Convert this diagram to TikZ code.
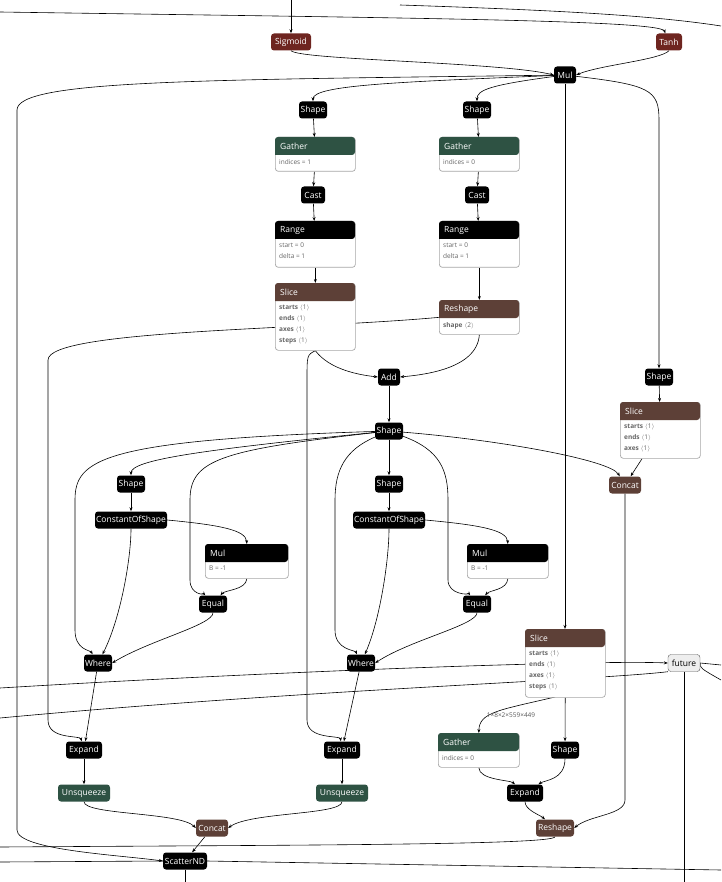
\documentclass[tikz,border=0pt]{standalone}
\usepackage{fontspec}
\setmainfont{Open Sans}
\usetikzlibrary{arrows.meta,backgrounds}
\definecolor{sig}{HTML}{6E2520}
\definecolor{brn}{HTML}{5D4037}
\definecolor{grn}{HTML}{2E5243}
\definecolor{fut}{HTML}{EEEEEE}
\newcommand\ang[1]{$\langle$#1$\rangle$}
\tikzset{
 op/.style={fill=black,text=white,rounded corners=3pt,inner sep=0pt,minimum height=17pt,font=\fontsize{8.5}{9}\selectfont,text width=#1,align=center},
 op/.default=28pt,
 cop/.style={op=#1,fill=brn},
 e/.style={-{Stealth[length=4pt,width=3pt]},line width=0.6pt},
 l/.style={line width=0.6pt},
 attr/.style={font=\fontsize{6.5}{11}\selectfont,text=gray!80!black,anchor=north west,align=left,inner sep=0pt}
}
\newcommand\abox[8]{%name,x,y,w,h,color,title,body
 \node[draw=gray!70,fill=white,rounded corners=3pt,minimum width=#4pt,minimum height=#5pt,anchor=north west,inner sep=0pt,line width=0.7pt] (#1) at (#2,#3) {};
 \fill[#6,rounded corners=3pt] (#2,#3+18) -- (#2,#3) -- (#2+#4,#3) -- (#2+#4,#3+18) [sharp corners]-- cycle;
 \node[anchor=west,text=white,font=\fontsize{8.5}{9}\selectfont,inner sep=0pt] at (#2+5,#3+9) {#7};
 \node[attr] at (#2+4,#3+22) {#8};}
\begin{document}
\begin{tikzpicture}[x=1pt,y=-1pt]
\useasboundingbox (0,0) rectangle (721,882);
% nodes
\node[op=40pt,fill=sig] (sig) at (291,42) {Sigmoid};
\node[op=26pt,fill=sig] (tanh) at (669,42) {Tanh};
\node[op=22pt] (mul) at (565,75) {Mul};
\node[op] (sh1) at (313,110) {Shape};
\node[op] (sh2) at (477,110) {Shape};
\abox{ga1}{275}{137}{80}{34}{grn}{Gather}{indices = 1}
\abox{ga2}{439}{137}{80}{34}{grn}{Gather}{indices = 0}
\node[op=24pt] (ca1) at (313,195) {Cast};
\node[op=24pt] (ca2) at (477,195) {Cast};
\abox{ra1}{275}{221}{80}{46}{black}{Range}{start = 0\\delta = 1}
\abox{ra2}{439}{221}{80}{46}{black}{Range}{start = 0\\delta = 1}
\abox{sl1}{275}{283}{80}{67}{brn}{Slice}{\textbf{starts} \ang{1}\\\textbf{ends} \ang{1}\\\textbf{axes} \ang{1}\\\textbf{steps} \ang{1}}
\abox{rs1}{439}{300}{80}{34}{brn}{Reshape}{\textbf{shape} \ang{2}}
\node[op=22pt] (add) at (389,377) {Add};
\node[op] (sh3) at (659,377) {Shape};
\abox{sl2}{620}{402}{80}{56}{brn}{Slice}{\textbf{starts} \ang{1}\\\textbf{ends} \ang{1}\\\textbf{axes} \ang{1}}
\node[op] (sh4) at (389,431) {Shape};
\node[cop=32pt] (cc1) at (625,485) {Concat};
\node[op] (sh5) at (131,484) {Shape};
\node[op] (sh6) at (389,484) {Shape};
\node[op=72pt] (co1) at (131,520) {ConstantOfShape};
\node[op=72pt] (co2) at (389,520) {ConstantOfShape};
\abox{mb1}{205}{544}{83}{34}{black}{Mul}{B = -1}
\abox{mb2}{467}{544}{81}{34}{black}{Mul}{B = -1}
\node[op] (eq1) at (213,604) {Equal};
\node[op] (eq2) at (477,604) {Equal};
\node[op] (wh1) at (98,663) {Where};
\node[op] (wh2) at (361,663) {Where};
\abox{sl3}{525}{629}{80}{68}{brn}{Slice}{\textbf{starts} \ang{1}\\\textbf{ends} \ang{1}\\\textbf{axes} \ang{1}\\\textbf{steps} \ang{1}}
\node[draw=gray!70!black,fill=fut,rounded corners=3pt,minimum height=17pt,inner sep=0pt,text width=32pt,align=center,font=\fontsize{8.5}{9}\selectfont] (fu) at (684,663) {future};
\abox{ga3}{438}{733}{81}{34}{grn}{Gather}{indices = 0}
\node[op] (sh7) at (565,750) {Shape};
\node[op=36pt] (ex1) at (84,750) {Expand};
\node[op=36pt] (ex2) at (342,750) {Expand};
\node[op=36pt] (ex3) at (525,793) {Expand};
\node[op=52pt,fill=grn] (un1) at (84,793) {Unsqueeze};
\node[op=52pt,fill=grn] (un2) at (342,793) {Unsqueeze};
\node[cop=32pt] (cc2) at (212,828) {Concat};
\node[cop=38pt] (rs2) at (555,828) {Reshape};
\node[op=44pt] (sct) at (185,861) {ScatterND};
\coordinate (t0) at (0,12); \coordinate (t1) at (291,0); \coordinate (t2) at (721,26);
\coordinate (lf1) at (0,688); \coordinate (lf2) at (0,718); \coordinate (lf3) at (0,862);
\coordinate (rt1) at (721,665); \coordinate (rt2) at (721,680); \coordinate (rt3) at (721,870);
\coordinate (b1) at (684,882); \coordinate (b2) at (185,882); \coordinate (lf4) at (0,847);
\coordinate (sl3o) at (555,697);
\begin{scope}[on background layer]
\draw[e] (t1) -- (sig);
\draw[e] (t0) .. controls (400,18) and (660,20) .. (tanh);
\draw[l] (400,5) .. controls (550,10) and (650,15) .. (t2);
\draw[e] (sig.south) .. controls (300,60) and (500,62) .. (mul.west);
\draw[e] (tanh.south) .. controls (660,60) and (600,65) .. (mul.east);
\draw[e] (mul) .. controls (400,82) and (313,85) .. (sh1);
\draw[e] (mul) .. controls (490,85) and (477,90) .. (sh2);
\draw[e] (mul) .. controls (200,80) and (17,80) .. (17,110) -- (17,830) .. controls (17,850) and (120,855) .. (sct.west);
\draw[e] (mul) -- (565,629);
\draw[e] (mul) .. controls (650,85) and (659,90) .. (659,120) -- (sh3);
\foreach \a/\b in {sh1/ga1,ga1/ca1,ca1/ra1,ra1/sl1,sh2/ga2,ga2/ca2,ca2/ra2,ra2/rs1,add/sh4,sh3/sl2,sh5/co1,sh6/co2,wh1/ex1,wh2/ex2,ex1/un1,ex2/un2,sl3/sh7,cc2/sct}
  \draw[e] (\a) -- (\b);
\draw[e] (sl1.south) .. controls (330,370) and (360,375) .. (add.west);
\draw[e] (rs1.south) .. controls (477,370) and (420,375) .. (add.east);
\draw[e] (rs1.west) .. controls (300,330) and (48,330) .. (48,360) -- (48,720) .. controls (48,740) and (80,735) .. (ex1);
\draw[e] (sl1.south) .. controls (307,355) .. (307,380) -- (307,720) .. controls (307,740) and (340,735) .. (ex2);
\draw[e] (sh4) .. controls (100,440) and (75,460) .. (75,500) -- (75,630) .. controls (75,650) and (90,650) .. (wh1);
\draw[e] (sh4) .. controls (200,450) and (131,460) .. (sh5);
\draw[e] (sh4) .. controls (220,450) and (190,460) .. (190,500) -- (190,580) .. controls (190,595) and (205,595) .. (eq1);
\draw[e] (sh4) .. controls (345,450) and (335,470) .. (335,500) -- (335,630) .. controls (335,650) and (355,650) .. (wh2);
\draw[e] (sh4) -- (sh6);
\draw[e] (sh4) .. controls (440,450) and (448,470) .. (448,500) -- (448,580) .. controls (448,595) and (470,595) .. (eq2);
\draw[e] (sh4) .. controls (500,440) and (610,460) .. (cc1);
\draw[e] (sl2) -- (cc1);
\draw[e] (cc1) -- (625,800) .. controls (625,815) and (590,815) .. (rs2.east);
\draw[e] (co1.south) .. controls (131,560) and (120,620) .. (wh1);
\draw[e] (co1.east) .. controls (220,525) and (246,530) .. (mb1.north);
\draw[e] (mb1.south) .. controls (246,590) and (225,590) .. (eq1);
\draw[e] (eq1.south) .. controls (213,625) and (150,640) .. (wh1.east);
\draw[e] (co2.south) .. controls (389,560) and (380,620) .. (wh2);
\draw[e] (co2.east) .. controls (480,525) and (507,530) .. (mb2.north);
\draw[e] (mb2.south) .. controls (507,590) and (490,590) .. (eq2);
\draw[e] (eq2.south) .. controls (477,625) and (410,640) .. (wh2.east);
\draw[e] (un1.south) .. controls (84,815) and (180,812) .. (cc2.west);
\draw[e] (un2.south) .. controls (342,815) and (250,812) .. (cc2.east);
\draw[e] (sl3o) .. controls (500,710) and (479,712) .. (ga3.north);
\draw[e] (ga3.south) .. controls (479,780) and (510,780) .. (ex3);
\draw[e] (sh7.south) .. controls (565,780) and (545,780) .. (ex3);
\draw[e] (ex3.south) .. controls (525,810) and (540,815) .. (rs2);
\draw[l] (rs2.south) .. controls (555,845) and (300,845) .. (lf4);
\draw[l] (lf3) -- (sct.west);
\draw[l] (sct.east) -- (rt3);
\draw[l] (sct) -- (b2);
\draw[e] (lf1) .. controls (300,670) and (600,660) .. (fu.west);
\draw[l] (lf2) .. controls (300,690) and (600,680) .. (fu.south west);
\draw[l] (fu.east) -- (rt1);
\draw[l] (fu.east) .. controls (700,668) .. (rt2);
\draw[l] (fu.south) -- (b1);
\end{scope}
\node[font=\fontsize{6.5}{7}\selectfont,text=gray!70!black] (lbl) at (511,715) {1×8×2×559×449};
\end{tikzpicture}
\end{document}
